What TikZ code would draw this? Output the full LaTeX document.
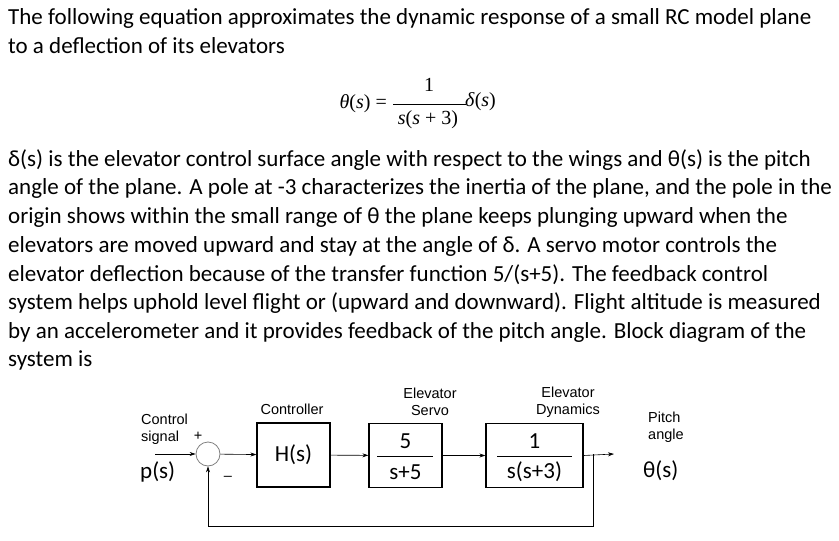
\documentclass[tikz,border=0pt]{standalone}
\usepackage{fontspec}
\setmainfont{Carlito}
\newfontfamily\arialf{Liberation Sans}
\newfontfamily\timesf{Liberation Serif}
\usetikzlibrary{arrows.meta}
\begin{document}
\begin{tikzpicture}[x=1pt,y=-1pt,
  txt/.style={anchor=west,inner sep=0pt,font=\fontsize{23}{28}\selectfont},
  blk/.style={draw,line width=1.2pt,minimum width=73pt,minimum height=64pt,inner sep=0pt},
  lab/.style={font=\arialf\fontsize{14.5}{17}\selectfont,align=left,inner sep=0pt},
  sig/.style={-{Stealth[length=6pt,width=4pt]},line width=0.6pt},
  big/.style={font=\fontsize{23}{26}\selectfont,inner sep=0pt},
  eq/.style={font=\timesf\fontsize{20}{24}\selectfont,inner sep=0pt}]
\useasboundingbox (0,0) rectangle (839,541);
\foreach \t [count=\i] in {{The following equation approximates the dynamic response of a small RC model plane},{to a deflection of its elevators}}
  \node[txt] (l\i) at (8,{18+28*(\i-1)}) {\t};
\foreach \t [count=\i] in {{δ(s) is the elevator control surface angle with respect to the wings and θ(s) is the pitch},
{angle of the plane. A pole at -3 characterizes the inertia of the plane, and the pole in the},
{origin shows within the small range of θ the plane keeps plunging upward when the},
{elevators are moved upward and stay at the angle of δ. A servo motor controls the},
{elevator deflection because of the transfer function 5/(s+5). The feedback control},
{system helps uphold level flight or (upward and downward). Flight altitude is measured},
{by an accelerometer and it provides feedback of the pitch angle. Block diagram of the},
{system is}}
  \node[txt] (m\i) at (8,{160+28.7*(\i-1)}) {\t};
% equation
\node[eq,anchor=east] (eqL) at (387,104) {\textit{θ}(\textit{s}) =};
\node[eq] (eqN) at (429,85) {1};
\node[eq] (eqD) at (428,120) {\textit{s}(\textit{s} + 3)};
\coordinate (f1) at (393,104); \coordinate (f2) at (466,104);
\draw[line width=0.8pt] (f1) -- (f2);
\node[eq,anchor=west] (eqR) at (465,102) {\textit{δ}(\textit{s})};
% block diagram
\node[draw=gray,line width=0.8pt,circle,minimum size=24pt,inner sep=0pt] (sum) at (208,454) {};
\node[blk] (H) at (293.5,455) {};
\node[big] at (H.center) {H(s)};
\node[blk] (S) at (405.5,455.5) {};
\draw[line width=0.8pt] (377,456) -- (433,456);
\node[big] at (405.5,441) {5};
\node[big] at (405.5,472) {s+5};
\node[blk,minimum width=97pt] (D) at (534.5,455.5) {};
\draw[line width=0.8pt] (497,456) -- (572,456);
\node[big] at (534.5,441) {1};
\node[big] at (534.5,472) {s(s+3)};
\coordinate (in) at (155,454);
\coordinate (br) at (593,454);
\coordinate (out) at (614,454);
\coordinate (fb1) at (593,526);
\coordinate (fb2) at (208,526);
\draw[sig] (in) -- (sum);
\draw[sig] (sum) -- (H);
\draw[sig] (H) -- (S);
\draw[sig] (S) -- (D);
\draw[sig] (D.east) -- (out);
\draw[sig] (br) -- (fb1) -- (fb2) -- (sum);
\node[lab,anchor=west] (cs) at (141,429) {Control\\signal};
\node[lab] (plus) at (198,436) {+};
\node[lab] (minus) at (228,478) {–};
\node[big,anchor=west] (ps) at (140,472) {p(s)};
\node[lab,align=center] (cl) at (292,409) {Controller};
\node[lab,align=center] (sl) at (430,402) {Elevator\\Servo};
\node[lab,align=center] (dl) at (568,402) {Elevator\\Dynamics};
\node[lab,anchor=west] (pl) at (648,427) {Pitch\\angle};
\node[big,anchor=west] (th) at (643,471) {θ(s)};
\end{tikzpicture}
\end{document}
